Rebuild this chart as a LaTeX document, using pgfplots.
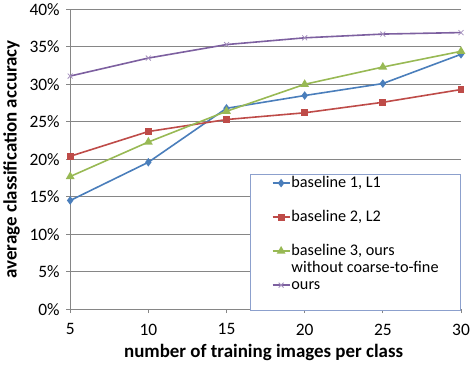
\documentclass[border=0pt]{standalone}
\usepackage{pgfplots}
\pgfplotsset{compat=1.18}
\usepackage{fontspec}
\setmainfont{Carlito}
\definecolor{cblue}{RGB}{74,126,187}
\definecolor{cred}{RGB}{190,75,72}
\definecolor{cgreen}{RGB}{152,185,84}
\definecolor{cpurple}{RGB}{125,96,160}
\definecolor{gridgray}{RGB}{134,134,134}
\definecolor{legborder}{RGB}{140,160,205}
\begin{document}
\begin{tikzpicture}
\begin{axis}[
  name=ax,
  scale only axis,
  width=391bp, height=300bp,
  xmin=5, xmax=30, ymin=0, ymax=40,
  xtick={5,10,15,20,25,30},
  ytick={0,5,...,40},
  yticklabel={\pgfmathprintnumber{\tick}\%},
  /pgf/number format/assume math mode=true,
  axis x line*=bottom, axis y line*=left,
  axis line style={gridgray, line width=0.8bp, -},
  tick style={gridgray, line width=0.8bp},
  tick align=outside,
  major tick length=4bp,
  ymajorgrids,
  grid style={gridgray, line width=0.8bp},
  tick label style={font=\fontsize{17.5}{19}\selectfont, black},
  xticklabel style={yshift=-7bp},
  yticklabel style={xshift=-3bp},
  xlabel={number of training images per class},
  ylabel={average classification accuracy},
  label style={font=\fontsize{19}{22}\selectfont\bfseries},
  xlabel style={at={(axis description cs:0.495,0)}, anchor=center, yshift=-43bp},
  ylabel style={at={(axis description cs:-0.150,0.5)}, anchor=center, rotate=0},
  legend cell align=left,
  legend style={
    at={(axis description cs:1,0.45)}, anchor=north east,
    draw=legborder, line width=0.8bp, fill=white,
    font=\fontsize{16.3}{18}\selectfont,
    inner xsep=21bp, inner ysep=0bp,
    row sep=0bp,
    nodes={inner xsep=1bp, inner ysep=1bp, text height=11.5bp, text depth=3.5bp},
  },
]
\addplot[cblue, line width=1.6bp, mark=diamond*, mark size=3bp, mark options={solid}]
  coordinates {(5,14.5) (10,19.6) (15,26.8) (20,28.5) (25,30.1) (30,34.0)};
\addlegendentry{baseline 1, L1}
\addlegendimage{empty legend}\addlegendentry{\mbox{}}
\addplot[cred, line width=1.6bp, mark=square*, mark size=2.6bp]
  coordinates {(5,20.4) (10,23.7) (15,25.3) (20,26.2) (25,27.6) (30,29.3)};
\addlegendentry{baseline 2, L2}
\addlegendimage{empty legend}\addlegendentry{\mbox{}}
\addplot[cgreen, line width=1.6bp, mark=triangle*, mark size=3.5bp]
  coordinates {(5,17.7) (10,22.3) (15,26.4) (20,30.0) (25,32.3) (30,34.4)};
\addlegendentry{baseline 3, ours}
\addlegendimage{empty legend}\addlegendentry{without coarse-to-fine}
\addplot[cpurple, line width=1.6bp, mark=x, mark size=3.5bp, mark options={line width=0.8bp, color=cpurple!70}]
  coordinates {(5,31.1) (10,33.5) (15,35.3) (20,36.2) (25,36.7) (30,36.9)};
\addlegendentry{ours}
\addlegendimage{empty legend}\addlegendentry{\mbox{}}
\end{axis}
\useasboundingbox (ax.south west) ++(-70bp,-57bp) rectangle ++(474bp,366bp);
\end{tikzpicture}
\end{document}
